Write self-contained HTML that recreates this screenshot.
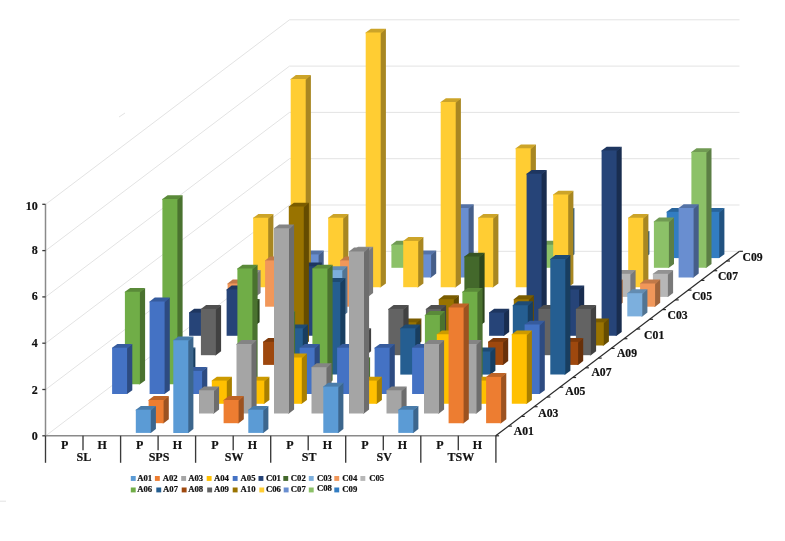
<!DOCTYPE html>
<html><head><meta charset="utf-8"><title>Chart</title>
<style>html,body{margin:0;padding:0;background:#fff;overflow:hidden}svg{display:block}</style></head>
<body>
<svg width="785" height="541" viewBox="0 0 785 541">
<rect width="785" height="541" fill="#fff"/>
<polyline points="45.7,435.8 289.5,251.3 739.5,251.3" fill="none" stroke="#E3E3E3" stroke-width="1"/>
<polyline points="45.7,389.5 289.5,205.0 739.5,205.0" fill="none" stroke="#E3E3E3" stroke-width="1"/>
<polyline points="45.7,343.2 289.5,158.7 739.5,158.7" fill="none" stroke="#E3E3E3" stroke-width="1"/>
<polyline points="45.7,296.9 289.5,112.4 739.5,112.4" fill="none" stroke="#E3E3E3" stroke-width="1"/>
<polyline points="45.7,250.6 289.5,66.1 739.5,66.1" fill="none" stroke="#E3E3E3" stroke-width="1"/>
<polyline points="45.7,204.3 289.5,19.8 739.5,19.8" fill="none" stroke="#E3E3E3" stroke-width="1"/>
<line x1="119" y1="117" x2="125" y2="113" stroke="#E3E3E3" stroke-width="1"/>
<line x1="0" y1="501.2" x2="6" y2="501.2" stroke="#E3E3E3" stroke-width="1"/>
<polygon points="568.2,258.1 569.2,258.1 574.4,254.2 574.4,207.9 569.2,211.8 568.2,211.8" fill="#215280"/>
<polygon points="554.2,212.8 554.2,211.8 559.4,207.9 574.4,207.9 569.8,212.4 569.2,212.8" fill="#28649B"/>
<polygon points="554.2,258.1 569.2,258.1 569.2,211.8 554.2,211.8" fill="#327DC2"/>
<polygon points="643.2,258.1 644.2,258.1 649.4,254.2 649.4,231.1 644.2,235.0 643.2,235.0" fill="#215280"/>
<polygon points="629.2,236.0 629.2,235.0 634.4,231.1 649.4,231.1 644.8,235.6 644.2,236.0" fill="#28649B"/>
<polygon points="629.2,258.1 644.2,258.1 644.2,235.0 629.2,235.0" fill="#327DC2"/>
<polygon points="680.7,258.1 681.7,258.1 686.9,254.2 686.9,207.9 681.7,211.8 680.7,211.8" fill="#215280"/>
<polygon points="666.7,212.8 666.7,211.8 671.9,207.9 686.9,207.9 682.3,212.4 681.7,212.8" fill="#28649B"/>
<polygon points="666.7,258.1 681.7,258.1 681.7,211.8 666.7,211.8" fill="#327DC2"/>
<polygon points="718.2,258.1 719.2,258.1 724.4,254.2 724.4,207.9 719.2,211.8 718.2,211.8" fill="#215280"/>
<polygon points="704.2,212.8 704.2,211.8 709.4,207.9 724.4,207.9 719.8,212.4 719.2,212.8" fill="#28649B"/>
<polygon points="704.2,258.1 719.2,258.1 719.2,211.8 704.2,211.8" fill="#327DC2"/>
<polygon points="405.4,267.8 406.4,267.8 411.5,263.9 411.5,240.8 406.4,244.7 405.4,244.7" fill="#5C7F45"/>
<polygon points="391.4,245.7 391.4,244.7 396.5,240.8 411.5,240.8 407.0,245.3 406.4,245.7" fill="#709A53"/>
<polygon points="391.4,267.8 406.4,267.8 406.4,244.7 391.4,244.7" fill="#8CC168"/>
<polygon points="555.4,267.8 556.4,267.8 561.5,263.9 561.5,240.8 556.4,244.7 555.4,244.7" fill="#5C7F45"/>
<polygon points="541.4,245.7 541.4,244.7 546.5,240.8 561.5,240.8 557.0,245.3 556.4,245.7" fill="#709A53"/>
<polygon points="541.4,267.8 556.4,267.8 556.4,244.7 541.4,244.7" fill="#8CC168"/>
<polygon points="667.9,267.8 668.9,267.8 674.0,263.9 674.0,217.6 668.9,221.5 667.9,221.5" fill="#5C7F45"/>
<polygon points="653.9,222.5 653.9,221.5 659.0,217.6 674.0,217.6 669.5,222.1 668.9,222.5" fill="#709A53"/>
<polygon points="653.9,267.8 668.9,267.8 668.9,221.5 653.9,221.5" fill="#8CC168"/>
<polygon points="705.4,267.8 706.4,267.8 711.5,263.9 711.5,148.2 706.4,152.1 705.4,152.1" fill="#5C7F45"/>
<polygon points="691.4,153.1 691.4,152.1 696.5,148.2 711.5,148.2 707.0,152.7 706.4,153.1" fill="#709A53"/>
<polygon points="691.4,267.8 706.4,267.8 706.4,152.1 691.4,152.1" fill="#8CC168"/>
<polygon points="317.6,277.5 318.6,277.5 323.7,273.6 323.7,250.5 318.6,254.4 317.6,254.4" fill="#455E89"/>
<polygon points="303.6,255.4 303.6,254.4 308.7,250.5 323.7,250.5 319.2,255.0 318.6,255.4" fill="#5472A6"/>
<polygon points="303.6,277.5 318.6,277.5 318.6,254.4 303.6,254.4" fill="#698ED0"/>
<polygon points="430.1,277.5 431.1,277.5 436.2,273.6 436.2,250.5 431.1,254.4 430.1,254.4" fill="#455E89"/>
<polygon points="416.1,255.4 416.1,254.4 421.2,250.5 436.2,250.5 431.7,255.0 431.1,255.4" fill="#5472A6"/>
<polygon points="416.1,277.5 431.1,277.5 431.1,254.4 416.1,254.4" fill="#698ED0"/>
<polygon points="467.6,277.5 468.6,277.5 473.7,273.6 473.7,204.2 468.6,208.1 467.6,208.1" fill="#455E89"/>
<polygon points="453.6,209.1 453.6,208.1 458.7,204.2 473.7,204.2 469.2,208.7 468.6,209.1" fill="#5472A6"/>
<polygon points="453.6,277.5 468.6,277.5 468.6,208.1 453.6,208.1" fill="#698ED0"/>
<polygon points="692.6,277.5 693.6,277.5 698.7,273.6 698.7,204.2 693.6,208.1 692.6,208.1" fill="#455E89"/>
<polygon points="678.6,209.1 678.6,208.1 683.7,204.2 698.7,204.2 694.2,208.7 693.6,209.1" fill="#5472A6"/>
<polygon points="678.6,277.5 693.6,277.5 693.6,208.1 678.6,208.1" fill="#698ED0"/>
<polygon points="267.2,287.2 268.2,287.2 273.4,283.4 273.4,213.9 268.2,217.8 267.2,217.8" fill="#A88722"/>
<polygon points="253.2,218.8 253.2,217.8 258.4,213.9 273.4,213.9 268.8,218.4 268.2,218.8" fill="#CCA429"/>
<polygon points="253.2,287.2 268.2,287.2 268.2,217.8 253.2,217.8" fill="#FFCD33"/>
<polygon points="304.7,287.2 305.7,287.2 310.9,283.4 310.9,75.0 305.7,78.9 304.7,78.9" fill="#A88722"/>
<polygon points="290.7,79.9 290.7,78.9 295.9,75.0 310.9,75.0 306.3,79.5 305.7,79.9" fill="#CCA429"/>
<polygon points="290.7,287.2 305.7,287.2 305.7,78.9 290.7,78.9" fill="#FFCD33"/>
<polygon points="342.2,287.2 343.2,287.2 348.4,283.4 348.4,213.9 343.2,217.8 342.2,217.8" fill="#A88722"/>
<polygon points="328.2,218.8 328.2,217.8 333.4,213.9 348.4,213.9 343.8,218.4 343.2,218.8" fill="#CCA429"/>
<polygon points="328.2,287.2 343.2,287.2 343.2,217.8 328.2,217.8" fill="#FFCD33"/>
<polygon points="379.7,287.2 380.7,287.2 385.9,283.4 385.9,28.7 380.7,32.6 379.7,32.6" fill="#A88722"/>
<polygon points="365.7,33.6 365.7,32.6 370.9,28.7 385.9,28.7 381.3,33.2 380.7,33.6" fill="#CCA429"/>
<polygon points="365.7,287.2 380.7,287.2 380.7,32.6 365.7,32.6" fill="#FFCD33"/>
<polygon points="417.2,287.2 418.2,287.2 423.4,283.4 423.4,237.1 418.2,240.9 417.2,240.9" fill="#A88722"/>
<polygon points="403.2,241.9 403.2,240.9 408.4,237.1 423.4,237.1 418.8,241.5 418.2,241.9" fill="#CCA429"/>
<polygon points="403.2,287.2 418.2,287.2 418.2,240.9 403.2,240.9" fill="#FFCD33"/>
<polygon points="454.7,287.2 455.7,287.2 460.9,283.4 460.9,98.2 455.7,102.0 454.7,102.0" fill="#A88722"/>
<polygon points="440.7,103.0 440.7,102.0 445.9,98.2 460.9,98.2 456.3,102.6 455.7,103.0" fill="#CCA429"/>
<polygon points="440.7,287.2 455.7,287.2 455.7,102.0 440.7,102.0" fill="#FFCD33"/>
<polygon points="492.2,287.2 493.2,287.2 498.4,283.4 498.4,213.9 493.2,217.8 492.2,217.8" fill="#A88722"/>
<polygon points="478.2,218.8 478.2,217.8 483.4,213.9 498.4,213.9 493.8,218.4 493.2,218.8" fill="#CCA429"/>
<polygon points="478.2,287.2 493.2,287.2 493.2,217.8 478.2,217.8" fill="#FFCD33"/>
<polygon points="529.7,287.2 530.7,287.2 535.9,283.4 535.9,144.5 530.7,148.3 529.7,148.3" fill="#A88722"/>
<polygon points="515.7,149.3 515.7,148.3 520.9,144.5 535.9,144.5 531.3,148.9 530.7,149.3" fill="#CCA429"/>
<polygon points="515.7,287.2 530.7,287.2 530.7,148.3 515.7,148.3" fill="#FFCD33"/>
<polygon points="567.2,287.2 568.2,287.2 573.4,283.4 573.4,190.8 568.2,194.6 567.2,194.6" fill="#A88722"/>
<polygon points="553.2,195.6 553.2,194.6 558.4,190.8 573.4,190.8 568.8,195.2 568.2,195.6" fill="#CCA429"/>
<polygon points="553.2,287.2 568.2,287.2 568.2,194.6 553.2,194.6" fill="#FFCD33"/>
<polygon points="642.2,287.2 643.2,287.2 648.4,283.4 648.4,213.9 643.2,217.8 642.2,217.8" fill="#A88722"/>
<polygon points="628.2,218.8 628.2,217.8 633.4,213.9 648.4,213.9 643.8,218.4 643.2,218.8" fill="#CCA429"/>
<polygon points="628.2,287.2 643.2,287.2 643.2,217.8 628.2,217.8" fill="#FFCD33"/>
<polygon points="254.4,296.9 255.4,296.9 260.6,293.1 260.6,269.9 255.4,273.8 254.4,273.8" fill="#797979"/>
<polygon points="240.4,274.8 240.4,273.8 245.6,269.9 260.6,269.9 256.0,274.4 255.4,274.8" fill="#929292"/>
<polygon points="240.4,296.9 255.4,296.9 255.4,273.8 240.4,273.8" fill="#B7B7B7"/>
<polygon points="366.9,296.9 367.9,296.9 373.1,293.1 373.1,246.8 367.9,250.6 366.9,250.6" fill="#797979"/>
<polygon points="352.9,251.6 352.9,250.6 358.1,246.8 373.1,246.8 368.5,251.2 367.9,251.6" fill="#929292"/>
<polygon points="352.9,296.9 367.9,296.9 367.9,250.6 352.9,250.6" fill="#B7B7B7"/>
<polygon points="629.4,296.9 630.4,296.9 635.6,293.1 635.6,269.9 630.4,273.8 629.4,273.8" fill="#797979"/>
<polygon points="615.4,274.8 615.4,273.8 620.6,269.9 635.6,269.9 631.0,274.4 630.4,274.8" fill="#929292"/>
<polygon points="615.4,296.9 630.4,296.9 630.4,273.8 615.4,273.8" fill="#B7B7B7"/>
<polygon points="666.9,296.9 667.9,296.9 673.1,293.1 673.1,269.9 667.9,273.8 666.9,273.8" fill="#797979"/>
<polygon points="652.9,274.8 652.9,273.8 658.1,269.9 673.1,269.9 668.5,274.4 667.9,274.8" fill="#929292"/>
<polygon points="652.9,296.9 667.9,296.9 667.9,273.8 652.9,273.8" fill="#B7B7B7"/>
<polygon points="241.6,306.7 242.6,306.7 247.7,302.8 247.7,279.6 242.6,283.5 241.6,283.5" fill="#9F643B"/>
<polygon points="227.6,284.5 227.6,283.5 232.7,279.6 247.7,279.6 243.2,284.1 242.6,284.5" fill="#C17948"/>
<polygon points="227.6,306.7 242.6,306.7 242.6,283.5 227.6,283.5" fill="#F1975A"/>
<polygon points="279.1,306.7 280.1,306.7 285.2,302.8 285.2,256.5 280.1,260.4 279.1,260.4" fill="#9F643B"/>
<polygon points="265.1,261.4 265.1,260.4 270.2,256.5 285.2,256.5 280.7,261.0 280.1,261.4" fill="#C17948"/>
<polygon points="265.1,306.7 280.1,306.7 280.1,260.4 265.1,260.4" fill="#F1975A"/>
<polygon points="354.1,306.7 355.1,306.7 360.2,302.8 360.2,256.5 355.1,260.4 354.1,260.4" fill="#9F643B"/>
<polygon points="340.1,261.4 340.1,260.4 345.2,256.5 360.2,256.5 355.7,261.0 355.1,261.4" fill="#C17948"/>
<polygon points="340.1,306.7 355.1,306.7 355.1,260.4 340.1,260.4" fill="#F1975A"/>
<polygon points="616.6,306.7 617.6,306.7 622.7,302.8 622.7,279.6 617.6,283.5 616.6,283.5" fill="#9F643B"/>
<polygon points="602.6,284.5 602.6,283.5 607.7,279.6 622.7,279.6 618.2,284.1 617.6,284.5" fill="#C17948"/>
<polygon points="602.6,306.7 617.6,306.7 617.6,283.5 602.6,283.5" fill="#F1975A"/>
<polygon points="654.1,306.7 655.1,306.7 660.2,302.8 660.2,279.6 655.1,283.5 654.1,283.5" fill="#9F643B"/>
<polygon points="640.1,284.5 640.1,283.5 645.2,279.6 660.2,279.6 655.7,284.1 655.1,284.5" fill="#C17948"/>
<polygon points="640.1,306.7 655.1,306.7 655.1,283.5 640.1,283.5" fill="#F1975A"/>
<polygon points="341.3,316.4 342.3,316.4 347.4,312.5 347.4,266.2 342.3,270.1 341.3,270.1" fill="#527492"/>
<polygon points="327.3,271.1 327.3,270.1 332.4,266.2 347.4,266.2 342.9,270.7 342.3,271.1" fill="#638CB1"/>
<polygon points="327.3,316.4 342.3,316.4 342.3,270.1 327.3,270.1" fill="#7CAFDD"/>
<polygon points="641.3,316.4 642.3,316.4 647.4,312.5 647.4,289.3 642.3,293.2 641.3,293.2" fill="#527492"/>
<polygon points="627.3,294.2 627.3,293.2 632.4,289.3 647.4,289.3 642.9,293.8 642.3,294.2" fill="#638CB1"/>
<polygon points="627.3,316.4 642.3,316.4 642.3,293.2 627.3,293.2" fill="#7CAFDD"/>
<polygon points="253.4,326.1 254.4,326.1 259.6,322.2 259.6,299.0 254.4,302.9 253.4,302.9" fill="#2C451C"/>
<polygon points="239.4,303.9 239.4,302.9 244.6,299.0 259.6,299.0 255.0,303.5 254.4,303.9" fill="#365322"/>
<polygon points="239.4,326.1 254.4,326.1 254.4,302.9 239.4,302.9" fill="#43682B"/>
<polygon points="478.4,326.1 479.4,326.1 484.6,322.2 484.6,252.7 479.4,256.6 478.4,256.6" fill="#2C451C"/>
<polygon points="464.4,257.6 464.4,256.6 469.6,252.7 484.6,252.7 480.0,257.2 479.4,257.6" fill="#365322"/>
<polygon points="464.4,326.1 479.4,326.1 479.4,256.6 464.4,256.6" fill="#43682B"/>
<polygon points="203.1,335.8 204.1,335.8 209.2,331.9 209.2,308.8 204.1,312.6 203.1,312.6" fill="#192D4F"/>
<polygon points="189.1,313.6 189.1,312.6 194.2,308.8 209.2,308.8 204.7,313.2 204.1,313.6" fill="#1E3660"/>
<polygon points="189.1,335.8 204.1,335.8 204.1,312.6 189.1,312.6" fill="#264478"/>
<polygon points="240.6,335.8 241.6,335.8 246.7,331.9 246.7,285.6 241.6,289.5 240.6,289.5" fill="#192D4F"/>
<polygon points="226.6,290.5 226.6,289.5 231.7,285.6 246.7,285.6 242.2,290.1 241.6,290.5" fill="#1E3660"/>
<polygon points="226.6,335.8 241.6,335.8 241.6,289.5 226.6,289.5" fill="#264478"/>
<polygon points="315.6,335.8 316.6,335.8 321.7,331.9 321.7,262.5 316.6,266.3 315.6,266.3" fill="#192D4F"/>
<polygon points="301.6,267.3 301.6,266.3 306.7,262.5 321.7,262.5 317.2,266.9 316.6,267.3" fill="#1E3660"/>
<polygon points="301.6,335.8 316.6,335.8 316.6,266.3 301.6,266.3" fill="#264478"/>
<polygon points="503.1,335.8 504.1,335.8 509.2,331.9 509.2,308.8 504.1,312.6 503.1,312.6" fill="#192D4F"/>
<polygon points="489.1,313.6 489.1,312.6 494.2,308.8 509.2,308.8 504.7,313.2 504.1,313.6" fill="#1E3660"/>
<polygon points="489.1,335.8 504.1,335.8 504.1,312.6 489.1,312.6" fill="#264478"/>
<polygon points="540.6,335.8 541.6,335.8 546.7,331.9 546.7,169.9 541.6,173.7 540.6,173.7" fill="#192D4F"/>
<polygon points="526.6,174.7 526.6,173.7 531.7,169.9 546.7,169.9 542.2,174.3 541.6,174.7" fill="#1E3660"/>
<polygon points="526.6,335.8 541.6,335.8 541.6,173.7 526.6,173.7" fill="#264478"/>
<polygon points="578.1,335.8 579.1,335.8 584.2,331.9 584.2,285.6 579.1,289.5 578.1,289.5" fill="#192D4F"/>
<polygon points="564.1,290.5 564.1,289.5 569.2,285.6 584.2,285.6 579.7,290.1 579.1,290.5" fill="#1E3660"/>
<polygon points="564.1,335.8 579.1,335.8 579.1,289.5 564.1,289.5" fill="#264478"/>
<polygon points="615.6,335.8 616.6,335.8 621.7,331.9 621.7,146.7 616.6,150.6 615.6,150.6" fill="#192D4F"/>
<polygon points="601.6,151.6 601.6,150.6 606.7,146.7 621.7,146.7 617.2,151.2 616.6,151.6" fill="#1E3660"/>
<polygon points="601.6,335.8 616.6,335.8 616.6,150.6 601.6,150.6" fill="#264478"/>
<polygon points="302.8,345.5 303.8,345.5 308.9,341.6 308.9,202.7 303.8,206.6 302.8,206.6" fill="#654C00"/>
<polygon points="288.8,207.6 288.8,206.6 293.9,202.7 308.9,202.7 304.4,207.2 303.8,207.6" fill="#7A5C00"/>
<polygon points="288.8,345.5 303.8,345.5 303.8,206.6 288.8,206.6" fill="#997300"/>
<polygon points="415.3,345.5 416.3,345.5 421.4,341.6 421.4,318.5 416.3,322.3 415.3,322.3" fill="#654C00"/>
<polygon points="401.3,323.3 401.3,322.3 406.4,318.5 421.4,318.5 416.9,322.9 416.3,323.3" fill="#7A5C00"/>
<polygon points="401.3,345.5 416.3,345.5 416.3,322.3 401.3,322.3" fill="#997300"/>
<polygon points="452.8,345.5 453.8,345.5 458.9,341.6 458.9,295.3 453.8,299.2 452.8,299.2" fill="#654C00"/>
<polygon points="438.8,300.2 438.8,299.2 443.9,295.3 458.9,295.3 454.4,299.8 453.8,300.2" fill="#7A5C00"/>
<polygon points="438.8,345.5 453.8,345.5 453.8,299.2 438.8,299.2" fill="#997300"/>
<polygon points="527.8,345.5 528.8,345.5 533.9,341.6 533.9,295.3 528.8,299.2 527.8,299.2" fill="#654C00"/>
<polygon points="513.8,300.2 513.8,299.2 518.9,295.3 533.9,295.3 529.4,299.8 528.8,300.2" fill="#7A5C00"/>
<polygon points="513.8,345.5 528.8,345.5 528.8,299.2 513.8,299.2" fill="#997300"/>
<polygon points="602.8,345.5 603.8,345.5 608.9,341.6 608.9,318.5 603.8,322.3 602.8,322.3" fill="#654C00"/>
<polygon points="588.8,323.3 588.8,322.3 593.9,318.5 608.9,318.5 604.4,322.9 603.8,323.3" fill="#7A5C00"/>
<polygon points="588.8,345.5 603.8,345.5 603.8,322.3 588.8,322.3" fill="#997300"/>
<polygon points="214.9,355.2 215.9,355.2 221.1,351.3 221.1,305.0 215.9,308.9 214.9,308.9" fill="#414141"/>
<polygon points="200.9,309.9 200.9,308.9 206.1,305.0 221.1,305.0 216.5,309.5 215.9,309.9" fill="#4F4F4F"/>
<polygon points="200.9,355.2 215.9,355.2 215.9,308.9 200.9,308.9" fill="#636363"/>
<polygon points="364.9,355.2 365.9,355.2 371.1,351.3 371.1,328.2 365.9,332.1 364.9,332.1" fill="#414141"/>
<polygon points="350.9,333.1 350.9,332.1 356.1,328.2 371.1,328.2 366.5,332.7 365.9,333.1" fill="#4F4F4F"/>
<polygon points="350.9,355.2 365.9,355.2 365.9,332.1 350.9,332.1" fill="#636363"/>
<polygon points="402.4,355.2 403.4,355.2 408.6,351.3 408.6,305.0 403.4,308.9 402.4,308.9" fill="#414141"/>
<polygon points="388.4,309.9 388.4,308.9 393.6,305.0 408.6,305.0 404.0,309.5 403.4,309.9" fill="#4F4F4F"/>
<polygon points="388.4,355.2 403.4,355.2 403.4,308.9 388.4,308.9" fill="#636363"/>
<polygon points="439.9,355.2 440.9,355.2 446.1,351.3 446.1,305.0 440.9,308.9 439.9,308.9" fill="#414141"/>
<polygon points="425.9,309.9 425.9,308.9 431.1,305.0 446.1,305.0 441.5,309.5 440.9,309.9" fill="#4F4F4F"/>
<polygon points="425.9,355.2 440.9,355.2 440.9,308.9 425.9,308.9" fill="#636363"/>
<polygon points="552.4,355.2 553.4,355.2 558.6,351.3 558.6,305.0 553.4,308.9 552.4,308.9" fill="#414141"/>
<polygon points="538.4,309.9 538.4,308.9 543.6,305.0 558.6,305.0 554.0,309.5 553.4,309.9" fill="#4F4F4F"/>
<polygon points="538.4,355.2 553.4,355.2 553.4,308.9 538.4,308.9" fill="#636363"/>
<polygon points="589.9,355.2 590.9,355.2 596.1,351.3 596.1,305.0 590.9,308.9 589.9,308.9" fill="#414141"/>
<polygon points="575.9,309.9 575.9,308.9 581.1,305.0 596.1,305.0 591.5,309.5 590.9,309.9" fill="#4F4F4F"/>
<polygon points="575.9,355.2 590.9,355.2 590.9,308.9 575.9,308.9" fill="#636363"/>
<polygon points="277.1,364.9 278.1,364.9 283.2,361.0 283.2,337.9 278.1,341.8 277.1,341.8" fill="#683009"/>
<polygon points="263.1,342.8 263.1,341.8 268.2,337.9 283.2,337.9 278.7,342.4 278.1,342.8" fill="#7E3A0B"/>
<polygon points="263.1,364.9 278.1,364.9 278.1,341.8 263.1,341.8" fill="#9E480E"/>
<polygon points="502.1,364.9 503.1,364.9 508.2,361.0 508.2,337.9 503.1,341.8 502.1,341.8" fill="#683009"/>
<polygon points="488.1,342.8 488.1,341.8 493.2,337.9 508.2,337.9 503.7,342.4 503.1,342.8" fill="#7E3A0B"/>
<polygon points="488.1,364.9 503.1,364.9 503.1,341.8 488.1,341.8" fill="#9E480E"/>
<polygon points="577.1,364.9 578.1,364.9 583.2,361.0 583.2,337.9 578.1,341.8 577.1,341.8" fill="#683009"/>
<polygon points="563.1,342.8 563.1,341.8 568.2,337.9 583.2,337.9 578.7,342.4 578.1,342.8" fill="#7E3A0B"/>
<polygon points="563.1,364.9 578.1,364.9 578.1,341.8 563.1,341.8" fill="#9E480E"/>
<polygon points="189.3,374.6 190.3,374.6 195.4,370.7 195.4,347.6 190.3,351.5 189.3,351.5" fill="#183E60"/>
<polygon points="175.3,352.5 175.3,351.5 180.4,347.6 195.4,347.6 190.9,352.1 190.3,352.5" fill="#1E4B74"/>
<polygon points="175.3,374.6 190.3,374.6 190.3,351.5 175.3,351.5" fill="#255E91"/>
<polygon points="301.8,374.6 302.8,374.6 307.9,370.7 307.9,324.4 302.8,328.3 301.8,328.3" fill="#183E60"/>
<polygon points="287.8,329.3 287.8,328.3 292.9,324.4 307.9,324.4 303.4,328.9 302.8,329.3" fill="#1E4B74"/>
<polygon points="287.8,374.6 302.8,374.6 302.8,328.3 287.8,328.3" fill="#255E91"/>
<polygon points="339.3,374.6 340.3,374.6 345.4,370.7 345.4,278.1 340.3,282.0 339.3,282.0" fill="#183E60"/>
<polygon points="325.3,283.0 325.3,282.0 330.4,278.1 345.4,278.1 340.9,282.6 340.3,283.0" fill="#1E4B74"/>
<polygon points="325.3,374.6 340.3,374.6 340.3,282.0 325.3,282.0" fill="#255E91"/>
<polygon points="414.3,374.6 415.3,374.6 420.4,370.7 420.4,324.4 415.3,328.3 414.3,328.3" fill="#183E60"/>
<polygon points="400.3,329.3 400.3,328.3 405.4,324.4 420.4,324.4 415.9,328.9 415.3,329.3" fill="#1E4B74"/>
<polygon points="400.3,374.6 415.3,374.6 415.3,328.3 400.3,328.3" fill="#255E91"/>
<polygon points="489.3,374.6 490.3,374.6 495.4,370.7 495.4,347.6 490.3,351.5 489.3,351.5" fill="#183E60"/>
<polygon points="475.3,352.5 475.3,351.5 480.4,347.6 495.4,347.6 490.9,352.1 490.3,352.5" fill="#1E4B74"/>
<polygon points="475.3,374.6 490.3,374.6 490.3,351.5 475.3,351.5" fill="#255E91"/>
<polygon points="526.8,374.6 527.8,374.6 532.9,370.7 532.9,301.3 527.8,305.2 526.8,305.2" fill="#183E60"/>
<polygon points="512.8,306.2 512.8,305.2 517.9,301.3 532.9,301.3 528.4,305.8 527.8,306.2" fill="#1E4B74"/>
<polygon points="512.8,374.6 527.8,374.6 527.8,305.2 512.8,305.2" fill="#255E91"/>
<polygon points="564.3,374.6 565.3,374.6 570.4,370.7 570.4,255.0 565.3,258.9 564.3,258.9" fill="#183E60"/>
<polygon points="550.3,259.9 550.3,258.9 555.4,255.0 570.4,255.0 565.9,259.5 565.3,259.9" fill="#1E4B74"/>
<polygon points="550.3,374.6 565.3,374.6 565.3,258.9 550.3,258.9" fill="#255E91"/>
<polygon points="138.9,384.3 139.9,384.3 145.1,380.5 145.1,287.9 139.9,291.7 138.9,291.7" fill="#4A722F"/>
<polygon points="124.9,292.7 124.9,291.7 130.1,287.9 145.1,287.9 140.5,292.3 139.9,292.7" fill="#5A8A39"/>
<polygon points="124.9,384.3 139.9,384.3 139.9,291.7 124.9,291.7" fill="#70AD47"/>
<polygon points="176.4,384.3 177.4,384.3 182.6,380.5 182.6,195.3 177.4,199.1 176.4,199.1" fill="#4A722F"/>
<polygon points="162.4,200.1 162.4,199.1 167.6,195.3 182.6,195.3 178.0,199.7 177.4,200.1" fill="#5A8A39"/>
<polygon points="162.4,384.3 177.4,384.3 177.4,199.1 162.4,199.1" fill="#70AD47"/>
<polygon points="251.4,384.3 252.4,384.3 257.6,380.5 257.6,264.7 252.4,268.6 251.4,268.6" fill="#4A722F"/>
<polygon points="237.4,269.6 237.4,268.6 242.6,264.7 257.6,264.7 253.0,269.2 252.4,269.6" fill="#5A8A39"/>
<polygon points="237.4,384.3 252.4,384.3 252.4,268.6 237.4,268.6" fill="#70AD47"/>
<polygon points="288.9,384.3 289.9,384.3 295.1,380.5 295.1,311.0 289.9,314.9 288.9,314.9" fill="#4A722F"/>
<polygon points="274.9,315.9 274.9,314.9 280.1,311.0 295.1,311.0 290.5,315.5 289.9,315.9" fill="#5A8A39"/>
<polygon points="274.9,384.3 289.9,384.3 289.9,314.9 274.9,314.9" fill="#70AD47"/>
<polygon points="326.4,384.3 327.4,384.3 332.6,380.5 332.6,264.7 327.4,268.6 326.4,268.6" fill="#4A722F"/>
<polygon points="312.4,269.6 312.4,268.6 317.6,264.7 332.6,264.7 328.0,269.2 327.4,269.6" fill="#5A8A39"/>
<polygon points="312.4,384.3 327.4,384.3 327.4,268.6 312.4,268.6" fill="#70AD47"/>
<polygon points="363.9,384.3 364.9,384.3 370.1,380.5 370.1,357.3 364.9,361.2 363.9,361.2" fill="#4A722F"/>
<polygon points="349.9,362.2 349.9,361.2 355.1,357.3 370.1,357.3 365.5,361.8 364.9,362.2" fill="#5A8A39"/>
<polygon points="349.9,384.3 364.9,384.3 364.9,361.2 349.9,361.2" fill="#70AD47"/>
<polygon points="438.9,384.3 439.9,384.3 445.1,380.5 445.1,311.0 439.9,314.9 438.9,314.9" fill="#4A722F"/>
<polygon points="424.9,315.9 424.9,314.9 430.1,311.0 445.1,311.0 440.5,315.5 439.9,315.9" fill="#5A8A39"/>
<polygon points="424.9,384.3 439.9,384.3 439.9,314.9 424.9,314.9" fill="#70AD47"/>
<polygon points="476.4,384.3 477.4,384.3 482.6,380.5 482.6,287.9 477.4,291.7 476.4,291.7" fill="#4A722F"/>
<polygon points="462.4,292.7 462.4,291.7 467.6,287.9 482.6,287.9 478.0,292.3 477.4,292.7" fill="#5A8A39"/>
<polygon points="462.4,384.3 477.4,384.3 477.4,291.7 462.4,291.7" fill="#70AD47"/>
<polygon points="126.1,394.0 127.1,394.0 132.3,390.2 132.3,343.9 127.1,347.7 126.1,347.7" fill="#2D4B81"/>
<polygon points="112.1,348.7 112.1,347.7 117.3,343.9 132.3,343.9 127.7,348.3 127.1,348.7" fill="#365B9D"/>
<polygon points="112.1,394.0 127.1,394.0 127.1,347.7 112.1,347.7" fill="#4472C4"/>
<polygon points="163.6,394.0 164.6,394.0 169.8,390.2 169.8,297.6 164.6,301.4 163.6,301.4" fill="#2D4B81"/>
<polygon points="149.6,302.4 149.6,301.4 154.8,297.6 169.8,297.6 165.2,302.0 164.6,302.4" fill="#365B9D"/>
<polygon points="149.6,394.0 164.6,394.0 164.6,301.4 149.6,301.4" fill="#4472C4"/>
<polygon points="201.1,394.0 202.1,394.0 207.3,390.2 207.3,367.0 202.1,370.9 201.1,370.9" fill="#2D4B81"/>
<polygon points="187.1,371.9 187.1,370.9 192.3,367.0 207.3,367.0 202.7,371.5 202.1,371.9" fill="#365B9D"/>
<polygon points="187.1,394.0 202.1,394.0 202.1,370.9 187.1,370.9" fill="#4472C4"/>
<polygon points="313.6,394.0 314.6,394.0 319.8,390.2 319.8,343.9 314.6,347.7 313.6,347.7" fill="#2D4B81"/>
<polygon points="299.6,348.7 299.6,347.7 304.8,343.9 319.8,343.9 315.2,348.3 314.6,348.7" fill="#365B9D"/>
<polygon points="299.6,394.0 314.6,394.0 314.6,347.7 299.6,347.7" fill="#4472C4"/>
<polygon points="351.1,394.0 352.1,394.0 357.3,390.2 357.3,343.9 352.1,347.7 351.1,347.7" fill="#2D4B81"/>
<polygon points="337.1,348.7 337.1,347.7 342.3,343.9 357.3,343.9 352.7,348.3 352.1,348.7" fill="#365B9D"/>
<polygon points="337.1,394.0 352.1,394.0 352.1,347.7 337.1,347.7" fill="#4472C4"/>
<polygon points="388.6,394.0 389.6,394.0 394.8,390.2 394.8,343.9 389.6,347.7 388.6,347.7" fill="#2D4B81"/>
<polygon points="374.6,348.7 374.6,347.7 379.8,343.9 394.8,343.9 390.2,348.3 389.6,348.7" fill="#365B9D"/>
<polygon points="374.6,394.0 389.6,394.0 389.6,347.7 374.6,347.7" fill="#4472C4"/>
<polygon points="426.1,394.0 427.1,394.0 432.3,390.2 432.3,343.9 427.1,347.7 426.1,347.7" fill="#2D4B81"/>
<polygon points="412.1,348.7 412.1,347.7 417.3,343.9 432.3,343.9 427.7,348.3 427.1,348.7" fill="#365B9D"/>
<polygon points="412.1,394.0 427.1,394.0 427.1,347.7 412.1,347.7" fill="#4472C4"/>
<polygon points="538.6,394.0 539.6,394.0 544.8,390.2 544.8,320.7 539.6,324.6 538.6,324.6" fill="#2D4B81"/>
<polygon points="524.6,325.6 524.6,324.6 529.8,320.7 544.8,320.7 540.2,325.2 539.6,325.6" fill="#365B9D"/>
<polygon points="524.6,394.0 539.6,394.0 539.6,324.6 524.6,324.6" fill="#4472C4"/>
<polygon points="225.8,403.8 226.8,403.8 231.9,399.9 231.9,376.7 226.8,380.6 225.8,380.6" fill="#A87F00"/>
<polygon points="211.8,381.6 211.8,380.6 216.9,376.7 231.9,376.7 227.4,381.2 226.8,381.6" fill="#CC9A00"/>
<polygon points="211.8,403.8 226.8,403.8 226.8,380.6 211.8,380.6" fill="#FFC000"/>
<polygon points="263.3,403.8 264.3,403.8 269.4,399.9 269.4,376.7 264.3,380.6 263.3,380.6" fill="#A87F00"/>
<polygon points="249.3,381.6 249.3,380.6 254.4,376.7 269.4,376.7 264.9,381.2 264.3,381.6" fill="#CC9A00"/>
<polygon points="249.3,403.8 264.3,403.8 264.3,380.6 249.3,380.6" fill="#FFC000"/>
<polygon points="300.8,403.8 301.8,403.8 306.9,399.9 306.9,353.6 301.8,357.5 300.8,357.5" fill="#A87F00"/>
<polygon points="286.8,358.5 286.8,357.5 291.9,353.6 306.9,353.6 302.4,358.1 301.8,358.5" fill="#CC9A00"/>
<polygon points="286.8,403.8 301.8,403.8 301.8,357.5 286.8,357.5" fill="#FFC000"/>
<polygon points="375.8,403.8 376.8,403.8 381.9,399.9 381.9,376.7 376.8,380.6 375.8,380.6" fill="#A87F00"/>
<polygon points="361.8,381.6 361.8,380.6 366.9,376.7 381.9,376.7 377.4,381.2 376.8,381.6" fill="#CC9A00"/>
<polygon points="361.8,403.8 376.8,403.8 376.8,380.6 361.8,380.6" fill="#FFC000"/>
<polygon points="450.8,403.8 451.8,403.8 456.9,399.9 456.9,330.4 451.8,334.3 450.8,334.3" fill="#A87F00"/>
<polygon points="436.8,335.3 436.8,334.3 441.9,330.4 456.9,330.4 452.4,334.9 451.8,335.3" fill="#CC9A00"/>
<polygon points="436.8,403.8 451.8,403.8 451.8,334.3 436.8,334.3" fill="#FFC000"/>
<polygon points="488.3,403.8 489.3,403.8 494.4,399.9 494.4,376.7 489.3,380.6 488.3,380.6" fill="#A87F00"/>
<polygon points="474.3,381.6 474.3,380.6 479.4,376.7 494.4,376.7 489.9,381.2 489.3,381.6" fill="#CC9A00"/>
<polygon points="474.3,403.8 489.3,403.8 489.3,380.6 474.3,380.6" fill="#FFC000"/>
<polygon points="525.8,403.8 526.8,403.8 531.9,399.9 531.9,330.4 526.8,334.3 525.8,334.3" fill="#A87F00"/>
<polygon points="511.8,335.3 511.8,334.3 516.9,330.4 531.9,330.4 527.4,334.9 526.8,335.3" fill="#CC9A00"/>
<polygon points="511.8,403.8 526.8,403.8 526.8,334.3 511.8,334.3" fill="#FFC000"/>
<polygon points="213.0,413.5 214.0,413.5 219.1,409.6 219.1,386.4 214.0,390.3 213.0,390.3" fill="#6D6D6D"/>
<polygon points="199.0,391.3 199.0,390.3 204.1,386.4 219.1,386.4 214.6,390.9 214.0,391.3" fill="#848484"/>
<polygon points="199.0,413.5 214.0,413.5 214.0,390.3 199.0,390.3" fill="#A5A5A5"/>
<polygon points="250.5,413.5 251.5,413.5 256.6,409.6 256.6,340.1 251.5,344.0 250.5,344.0" fill="#6D6D6D"/>
<polygon points="236.5,345.0 236.5,344.0 241.6,340.1 256.6,340.1 252.1,344.6 251.5,345.0" fill="#848484"/>
<polygon points="236.5,413.5 251.5,413.5 251.5,344.0 236.5,344.0" fill="#A5A5A5"/>
<polygon points="288.0,413.5 289.0,413.5 294.1,409.6 294.1,224.4 289.0,228.3 288.0,228.3" fill="#6D6D6D"/>
<polygon points="274.0,229.3 274.0,228.3 279.1,224.4 294.1,224.4 289.6,228.9 289.0,229.3" fill="#848484"/>
<polygon points="274.0,413.5 289.0,413.5 289.0,228.3 274.0,228.3" fill="#A5A5A5"/>
<polygon points="325.5,413.5 326.5,413.5 331.6,409.6 331.6,363.3 326.5,367.2 325.5,367.2" fill="#6D6D6D"/>
<polygon points="311.5,368.2 311.5,367.2 316.6,363.3 331.6,363.3 327.1,367.8 326.5,368.2" fill="#848484"/>
<polygon points="311.5,413.5 326.5,413.5 326.5,367.2 311.5,367.2" fill="#A5A5A5"/>
<polygon points="363.0,413.5 364.0,413.5 369.1,409.6 369.1,247.5 364.0,251.4 363.0,251.4" fill="#6D6D6D"/>
<polygon points="349.0,252.4 349.0,251.4 354.1,247.5 369.1,247.5 364.6,252.0 364.0,252.4" fill="#848484"/>
<polygon points="349.0,413.5 364.0,413.5 364.0,251.4 349.0,251.4" fill="#A5A5A5"/>
<polygon points="400.5,413.5 401.5,413.5 406.6,409.6 406.6,386.4 401.5,390.3 400.5,390.3" fill="#6D6D6D"/>
<polygon points="386.5,391.3 386.5,390.3 391.6,386.4 406.6,386.4 402.1,390.9 401.5,391.3" fill="#848484"/>
<polygon points="386.5,413.5 401.5,413.5 401.5,390.3 386.5,390.3" fill="#A5A5A5"/>
<polygon points="438.0,413.5 439.0,413.5 444.1,409.6 444.1,340.1 439.0,344.0 438.0,344.0" fill="#6D6D6D"/>
<polygon points="424.0,345.0 424.0,344.0 429.1,340.1 444.1,340.1 439.6,344.6 439.0,345.0" fill="#848484"/>
<polygon points="424.0,413.5 439.0,413.5 439.0,344.0 424.0,344.0" fill="#A5A5A5"/>
<polygon points="475.5,413.5 476.5,413.5 481.6,409.6 481.6,340.1 476.5,344.0 475.5,344.0" fill="#6D6D6D"/>
<polygon points="461.5,345.0 461.5,344.0 466.6,340.1 481.6,340.1 477.1,344.6 476.5,345.0" fill="#848484"/>
<polygon points="461.5,413.5 476.5,413.5 476.5,344.0 461.5,344.0" fill="#A5A5A5"/>
<polygon points="162.6,423.2 163.6,423.2 168.8,419.3 168.8,396.1 163.6,400.0 162.6,400.0" fill="#9C5220"/>
<polygon points="148.6,401.0 148.6,400.0 153.8,396.1 168.8,396.1 164.2,400.6 163.6,401.0" fill="#BE6427"/>
<polygon points="148.6,423.2 163.6,423.2 163.6,400.0 148.6,400.0" fill="#ED7D31"/>
<polygon points="237.6,423.2 238.6,423.2 243.8,419.3 243.8,396.1 238.6,400.0 237.6,400.0" fill="#9C5220"/>
<polygon points="223.6,401.0 223.6,400.0 228.8,396.1 243.8,396.1 239.2,400.6 238.6,401.0" fill="#BE6427"/>
<polygon points="223.6,423.2 238.6,423.2 238.6,400.0 223.6,400.0" fill="#ED7D31"/>
<polygon points="462.6,423.2 463.6,423.2 468.8,419.3 468.8,303.5 463.6,307.4 462.6,307.4" fill="#9C5220"/>
<polygon points="448.6,308.4 448.6,307.4 453.8,303.5 468.8,303.5 464.2,308.0 463.6,308.4" fill="#BE6427"/>
<polygon points="448.6,423.2 463.6,423.2 463.6,307.4 448.6,307.4" fill="#ED7D31"/>
<polygon points="500.1,423.2 501.1,423.2 506.3,419.3 506.3,373.0 501.1,376.9 500.1,376.9" fill="#9C5220"/>
<polygon points="486.1,377.9 486.1,376.9 491.3,373.0 506.3,373.0 501.7,377.5 501.1,377.9" fill="#BE6427"/>
<polygon points="486.1,423.2 501.1,423.2 501.1,376.9 486.1,376.9" fill="#ED7D31"/>
<polygon points="149.8,432.9 150.8,432.9 155.9,429.0 155.9,405.9 150.8,409.7 149.8,409.7" fill="#3C668D"/>
<polygon points="135.8,410.7 135.8,409.7 140.9,405.9 155.9,405.9 151.4,410.3 150.8,410.7" fill="#497CAA"/>
<polygon points="135.8,432.9 150.8,432.9 150.8,409.7 135.8,409.7" fill="#5B9BD5"/>
<polygon points="187.3,432.9 188.3,432.9 193.4,429.0 193.4,336.4 188.3,340.3 187.3,340.3" fill="#3C668D"/>
<polygon points="173.3,341.3 173.3,340.3 178.4,336.4 193.4,336.4 188.9,340.9 188.3,341.3" fill="#497CAA"/>
<polygon points="173.3,432.9 188.3,432.9 188.3,340.3 173.3,340.3" fill="#5B9BD5"/>
<polygon points="262.3,432.9 263.3,432.9 268.4,429.0 268.4,405.9 263.3,409.7 262.3,409.7" fill="#3C668D"/>
<polygon points="248.3,410.7 248.3,409.7 253.4,405.9 268.4,405.9 263.9,410.3 263.3,410.7" fill="#497CAA"/>
<polygon points="248.3,432.9 263.3,432.9 263.3,409.7 248.3,409.7" fill="#5B9BD5"/>
<polygon points="337.3,432.9 338.3,432.9 343.4,429.0 343.4,382.7 338.3,386.6 337.3,386.6" fill="#3C668D"/>
<polygon points="323.3,387.6 323.3,386.6 328.4,382.7 343.4,382.7 338.9,387.2 338.3,387.6" fill="#497CAA"/>
<polygon points="323.3,432.9 338.3,432.9 338.3,386.6 323.3,386.6" fill="#5B9BD5"/>
<polygon points="412.3,432.9 413.3,432.9 418.4,429.0 418.4,405.9 413.3,409.7 412.3,409.7" fill="#3C668D"/>
<polygon points="398.3,410.7 398.3,409.7 403.4,405.9 418.4,405.9 413.9,410.3 413.3,410.7" fill="#497CAA"/>
<polygon points="398.3,432.9 413.3,432.9 413.3,409.7 398.3,409.7" fill="#5B9BD5"/>
<line x1="45.5" y1="204.3" x2="45.5" y2="435.8" stroke="#8A8A8A" stroke-width="1.5"/>
<line x1="45.5" y1="435.8" x2="495.8" y2="435.8" stroke="#8A8A8A" stroke-width="1.5"/>
<line x1="42.3" y1="435.8" x2="45.5" y2="435.8" stroke="#3a3a3a" stroke-width="1.3"/>
<text x="37.7" y="440.0" font-size="12" text-anchor="end" font-family="Liberation Serif, serif" font-weight="bold" fill="#111" stroke="#111" stroke-width="0.2">0</text>
<line x1="42.3" y1="389.5" x2="45.5" y2="389.5" stroke="#3a3a3a" stroke-width="1.3"/>
<text x="37.7" y="393.9" font-size="12" text-anchor="end" font-family="Liberation Serif, serif" font-weight="bold" fill="#111" stroke="#111" stroke-width="0.2">2</text>
<line x1="42.3" y1="343.2" x2="45.5" y2="343.2" stroke="#3a3a3a" stroke-width="1.3"/>
<text x="37.7" y="346.5" font-size="12" text-anchor="end" font-family="Liberation Serif, serif" font-weight="bold" fill="#111" stroke="#111" stroke-width="0.2">4</text>
<line x1="42.3" y1="296.9" x2="45.5" y2="296.9" stroke="#3a3a3a" stroke-width="1.3"/>
<text x="37.7" y="299.9" font-size="12" text-anchor="end" font-family="Liberation Serif, serif" font-weight="bold" fill="#111" stroke="#111" stroke-width="0.2">6</text>
<line x1="42.3" y1="250.6" x2="45.5" y2="250.6" stroke="#3a3a3a" stroke-width="1.3"/>
<text x="37.7" y="254.3" font-size="12" text-anchor="end" font-family="Liberation Serif, serif" font-weight="bold" fill="#111" stroke="#111" stroke-width="0.2">8</text>
<line x1="42.3" y1="204.3" x2="45.5" y2="204.3" stroke="#3a3a3a" stroke-width="1.3"/>
<text x="37.7" y="209.9" font-size="12" text-anchor="end" font-family="Liberation Serif, serif" font-weight="bold" fill="#111" stroke="#111" stroke-width="0.2">10</text>
<line x1="45.5" y1="435.8" x2="45.5" y2="462.8" stroke="#3a3a3a" stroke-width="1.35"/>
<line x1="83.0" y1="435.8" x2="83.0" y2="450.3" stroke="#3a3a3a" stroke-width="1.35"/>
<line x1="120.6" y1="435.8" x2="120.6" y2="462.8" stroke="#3a3a3a" stroke-width="1.35"/>
<line x1="158.1" y1="435.8" x2="158.1" y2="450.3" stroke="#3a3a3a" stroke-width="1.35"/>
<line x1="195.6" y1="435.8" x2="195.6" y2="462.8" stroke="#3a3a3a" stroke-width="1.35"/>
<line x1="233.2" y1="435.8" x2="233.2" y2="450.3" stroke="#3a3a3a" stroke-width="1.35"/>
<line x1="270.7" y1="435.8" x2="270.7" y2="462.8" stroke="#3a3a3a" stroke-width="1.35"/>
<line x1="308.2" y1="435.8" x2="308.2" y2="450.3" stroke="#3a3a3a" stroke-width="1.35"/>
<line x1="345.7" y1="435.8" x2="345.7" y2="462.8" stroke="#3a3a3a" stroke-width="1.35"/>
<line x1="383.3" y1="435.8" x2="383.3" y2="450.3" stroke="#3a3a3a" stroke-width="1.35"/>
<line x1="420.8" y1="435.8" x2="420.8" y2="462.8" stroke="#3a3a3a" stroke-width="1.35"/>
<line x1="458.3" y1="435.8" x2="458.3" y2="450.3" stroke="#3a3a3a" stroke-width="1.35"/>
<line x1="495.9" y1="435.8" x2="495.9" y2="462.8" stroke="#3a3a3a" stroke-width="1.35"/>
<text x="64.7" y="448.8" font-size="12" text-anchor="middle" font-family="Liberation Serif, serif" font-weight="bold" fill="#111" stroke="#111" stroke-width="0.2">P</text>
<text x="102.2" y="448.8" font-size="12" text-anchor="middle" font-family="Liberation Serif, serif" font-weight="bold" fill="#111" stroke="#111" stroke-width="0.2">H</text>
<text x="139.7" y="448.8" font-size="12" text-anchor="middle" font-family="Liberation Serif, serif" font-weight="bold" fill="#111" stroke="#111" stroke-width="0.2">P</text>
<text x="177.3" y="448.8" font-size="12" text-anchor="middle" font-family="Liberation Serif, serif" font-weight="bold" fill="#111" stroke="#111" stroke-width="0.2">H</text>
<text x="214.8" y="448.8" font-size="12" text-anchor="middle" font-family="Liberation Serif, serif" font-weight="bold" fill="#111" stroke="#111" stroke-width="0.2">P</text>
<text x="252.3" y="448.8" font-size="12" text-anchor="middle" font-family="Liberation Serif, serif" font-weight="bold" fill="#111" stroke="#111" stroke-width="0.2">H</text>
<text x="289.8" y="448.8" font-size="12" text-anchor="middle" font-family="Liberation Serif, serif" font-weight="bold" fill="#111" stroke="#111" stroke-width="0.2">P</text>
<text x="327.4" y="448.8" font-size="12" text-anchor="middle" font-family="Liberation Serif, serif" font-weight="bold" fill="#111" stroke="#111" stroke-width="0.2">H</text>
<text x="364.9" y="448.8" font-size="12" text-anchor="middle" font-family="Liberation Serif, serif" font-weight="bold" fill="#111" stroke="#111" stroke-width="0.2">P</text>
<text x="402.4" y="448.8" font-size="12" text-anchor="middle" font-family="Liberation Serif, serif" font-weight="bold" fill="#111" stroke="#111" stroke-width="0.2">H</text>
<text x="440.0" y="448.8" font-size="12" text-anchor="middle" font-family="Liberation Serif, serif" font-weight="bold" fill="#111" stroke="#111" stroke-width="0.2">P</text>
<text x="477.5" y="448.8" font-size="12" text-anchor="middle" font-family="Liberation Serif, serif" font-weight="bold" fill="#111" stroke="#111" stroke-width="0.2">H</text>
<text x="83.9" y="461.2" font-size="12" text-anchor="middle" font-family="Liberation Serif, serif" font-weight="bold" fill="#111" stroke="#111" stroke-width="0.2">SL</text>
<text x="159.0" y="461.2" font-size="12" text-anchor="middle" font-family="Liberation Serif, serif" font-weight="bold" fill="#111" stroke="#111" stroke-width="0.2">SPS</text>
<text x="234.1" y="461.2" font-size="12" text-anchor="middle" font-family="Liberation Serif, serif" font-weight="bold" fill="#111" stroke="#111" stroke-width="0.2">SW</text>
<text x="309.1" y="461.2" font-size="12" text-anchor="middle" font-family="Liberation Serif, serif" font-weight="bold" fill="#111" stroke="#111" stroke-width="0.2">ST</text>
<text x="384.2" y="461.2" font-size="12" text-anchor="middle" font-family="Liberation Serif, serif" font-weight="bold" fill="#111" stroke="#111" stroke-width="0.2">SV</text>
<text x="460.9" y="461.2" font-size="12" text-anchor="middle" font-family="Liberation Serif, serif" font-weight="bold" fill="#111" stroke="#111" stroke-width="0.2">TSW</text>
<line x1="495.7" y1="435.8" x2="739.5" y2="251.3" stroke="#2a2a2a" stroke-width="1.25"/>
<line x1="495.7" y1="435.8" x2="499.1" y2="435.8" stroke="#2a2a2a" stroke-width="1.2"/>
<line x1="508.5" y1="426.1" x2="511.9" y2="426.1" stroke="#2a2a2a" stroke-width="1.2"/>
<line x1="521.4" y1="416.4" x2="524.8" y2="416.4" stroke="#2a2a2a" stroke-width="1.2"/>
<line x1="534.2" y1="406.7" x2="537.6" y2="406.7" stroke="#2a2a2a" stroke-width="1.2"/>
<line x1="547.0" y1="397.0" x2="550.4" y2="397.0" stroke="#2a2a2a" stroke-width="1.2"/>
<line x1="559.9" y1="387.2" x2="563.2" y2="387.2" stroke="#2a2a2a" stroke-width="1.2"/>
<line x1="572.7" y1="377.5" x2="576.1" y2="377.5" stroke="#2a2a2a" stroke-width="1.2"/>
<line x1="585.5" y1="367.8" x2="588.9" y2="367.8" stroke="#2a2a2a" stroke-width="1.2"/>
<line x1="598.3" y1="358.1" x2="601.7" y2="358.1" stroke="#2a2a2a" stroke-width="1.2"/>
<line x1="611.2" y1="348.4" x2="614.6" y2="348.4" stroke="#2a2a2a" stroke-width="1.2"/>
<line x1="624.0" y1="338.7" x2="627.4" y2="338.7" stroke="#2a2a2a" stroke-width="1.2"/>
<line x1="636.8" y1="329.0" x2="640.2" y2="329.0" stroke="#2a2a2a" stroke-width="1.2"/>
<line x1="649.7" y1="319.3" x2="653.1" y2="319.3" stroke="#2a2a2a" stroke-width="1.2"/>
<line x1="662.5" y1="309.6" x2="665.9" y2="309.6" stroke="#2a2a2a" stroke-width="1.2"/>
<line x1="675.3" y1="299.9" x2="678.7" y2="299.9" stroke="#2a2a2a" stroke-width="1.2"/>
<line x1="688.1" y1="290.1" x2="691.5" y2="290.1" stroke="#2a2a2a" stroke-width="1.2"/>
<line x1="701.0" y1="280.4" x2="704.4" y2="280.4" stroke="#2a2a2a" stroke-width="1.2"/>
<line x1="713.8" y1="270.7" x2="717.2" y2="270.7" stroke="#2a2a2a" stroke-width="1.2"/>
<line x1="726.6" y1="261.0" x2="730.0" y2="261.0" stroke="#2a2a2a" stroke-width="1.2"/>
<line x1="739.5" y1="251.3" x2="742.9" y2="251.3" stroke="#2a2a2a" stroke-width="1.2"/>
<text x="513.8" y="434.5" font-size="11.7" font-family="Liberation Serif, serif" font-weight="bold" fill="#111" stroke="#111" stroke-width="0.2">A01</text>
<text x="538.2" y="416.7" font-size="11.7" font-family="Liberation Serif, serif" font-weight="bold" fill="#111" stroke="#111" stroke-width="0.2">A03</text>
<text x="565.2" y="395.4" font-size="11.7" font-family="Liberation Serif, serif" font-weight="bold" fill="#111" stroke="#111" stroke-width="0.2">A05</text>
<text x="591.4" y="376.3" font-size="11.7" font-family="Liberation Serif, serif" font-weight="bold" fill="#111" stroke="#111" stroke-width="0.2">A07</text>
<text x="616.9" y="356.6" font-size="11.7" font-family="Liberation Serif, serif" font-weight="bold" fill="#111" stroke="#111" stroke-width="0.2">A09</text>
<text x="644.1" y="338.6" font-size="11.7" font-family="Liberation Serif, serif" font-weight="bold" fill="#111" stroke="#111" stroke-width="0.2">C01</text>
<text x="667.5" y="319.3" font-size="11.7" font-family="Liberation Serif, serif" font-weight="bold" fill="#111" stroke="#111" stroke-width="0.2">C03</text>
<text x="691.9" y="300.1" font-size="11.7" font-family="Liberation Serif, serif" font-weight="bold" fill="#111" stroke="#111" stroke-width="0.2">C05</text>
<text x="717.9" y="280.0" font-size="11.7" font-family="Liberation Serif, serif" font-weight="bold" fill="#111" stroke="#111" stroke-width="0.2">C07</text>
<text x="742.5" y="260.6" font-size="11.7" font-family="Liberation Serif, serif" font-weight="bold" fill="#111" stroke="#111" stroke-width="0.2">C09</text>
<rect x="130.8" y="476.0" width="4.9" height="4.9" fill="#5B9BD5"/>
<text x="137.2" y="481.3" font-size="8.7" font-family="Liberation Serif, serif" font-weight="bold" fill="#111" stroke="#111" stroke-width="0.2">A01</text>
<rect x="154.9" y="476.0" width="4.9" height="4.9" fill="#ED7D31"/>
<text x="162.7" y="481.3" font-size="8.7" font-family="Liberation Serif, serif" font-weight="bold" fill="#111" stroke="#111" stroke-width="0.2">A02</text>
<rect x="181.2" y="476.0" width="4.9" height="4.9" fill="#A5A5A5"/>
<text x="188.2" y="481.3" font-size="8.7" font-family="Liberation Serif, serif" font-weight="bold" fill="#111" stroke="#111" stroke-width="0.2">A03</text>
<rect x="206.7" y="476.0" width="4.9" height="4.9" fill="#FFC000"/>
<text x="214.0" y="481.3" font-size="8.7" font-family="Liberation Serif, serif" font-weight="bold" fill="#111" stroke="#111" stroke-width="0.2">A04</text>
<rect x="232.7" y="476.0" width="4.9" height="4.9" fill="#4472C4"/>
<text x="240.6" y="481.3" font-size="8.7" font-family="Liberation Serif, serif" font-weight="bold" fill="#111" stroke="#111" stroke-width="0.2">A05</text>
<rect x="258.5" y="476.0" width="4.9" height="4.9" fill="#264478"/>
<text x="265.9" y="481.3" font-size="8.7" font-family="Liberation Serif, serif" font-weight="bold" fill="#111" stroke="#111" stroke-width="0.2">C01</text>
<rect x="283.3" y="476.0" width="4.9" height="4.9" fill="#43682B"/>
<text x="290.8" y="481.3" font-size="8.7" font-family="Liberation Serif, serif" font-weight="bold" fill="#111" stroke="#111" stroke-width="0.2">C02</text>
<rect x="308.8" y="476.0" width="4.9" height="4.9" fill="#7CAFDD"/>
<text x="316.9" y="481.3" font-size="8.7" font-family="Liberation Serif, serif" font-weight="bold" fill="#111" stroke="#111" stroke-width="0.2">C03</text>
<rect x="334.3" y="476.0" width="4.9" height="4.9" fill="#F1975A"/>
<text x="342.3" y="481.3" font-size="8.7" font-family="Liberation Serif, serif" font-weight="bold" fill="#111" stroke="#111" stroke-width="0.2">C04</text>
<rect x="360.4" y="476.0" width="4.9" height="4.9" fill="#B7B7B7"/>
<text x="369.2" y="481.3" font-size="8.7" font-family="Liberation Serif, serif" font-weight="bold" fill="#111" stroke="#111" stroke-width="0.2">C05</text>
<rect x="130.8" y="487.5" width="4.9" height="4.9" fill="#70AD47"/>
<text x="137.2" y="492.3" font-size="8.7" font-family="Liberation Serif, serif" font-weight="bold" fill="#111" stroke="#111" stroke-width="0.2">A06</text>
<rect x="156.3" y="487.5" width="4.9" height="4.9" fill="#255E91"/>
<text x="163.1" y="492.3" font-size="8.7" font-family="Liberation Serif, serif" font-weight="bold" fill="#111" stroke="#111" stroke-width="0.2">A07</text>
<rect x="181.7" y="487.5" width="4.9" height="4.9" fill="#9E480E"/>
<text x="188.2" y="492.3" font-size="8.7" font-family="Liberation Serif, serif" font-weight="bold" fill="#111" stroke="#111" stroke-width="0.2">A08</text>
<rect x="207.2" y="487.5" width="4.9" height="4.9" fill="#636363"/>
<text x="214.0" y="492.3" font-size="8.7" font-family="Liberation Serif, serif" font-weight="bold" fill="#111" stroke="#111" stroke-width="0.2">A09</text>
<rect x="232.7" y="487.5" width="4.9" height="4.9" fill="#997300"/>
<text x="240.6" y="492.3" font-size="8.7" font-family="Liberation Serif, serif" font-weight="bold" fill="#111" stroke="#111" stroke-width="0.2">A10</text>
<rect x="259.3" y="487.5" width="4.9" height="4.9" fill="#FFCD33"/>
<text x="265.9" y="492.3" font-size="8.7" font-family="Liberation Serif, serif" font-weight="bold" fill="#111" stroke="#111" stroke-width="0.2">C06</text>
<rect x="283.7" y="487.5" width="4.9" height="4.9" fill="#698ED0"/>
<text x="290.8" y="492.3" font-size="8.7" font-family="Liberation Serif, serif" font-weight="bold" fill="#111" stroke="#111" stroke-width="0.2">C07</text>
<rect x="308.8" y="487.5" width="4.9" height="4.9" fill="#8CC168"/>
<text x="316.9" y="491.4" font-size="8.7" font-family="Liberation Serif, serif" font-weight="bold" fill="#111" stroke="#111" stroke-width="0.2">C08</text>
<rect x="334.3" y="487.5" width="4.9" height="4.9" fill="#327DC2"/>
<text x="342.3" y="492.3" font-size="8.7" font-family="Liberation Serif, serif" font-weight="bold" fill="#111" stroke="#111" stroke-width="0.2">C09</text>
</svg>
</body></html>
